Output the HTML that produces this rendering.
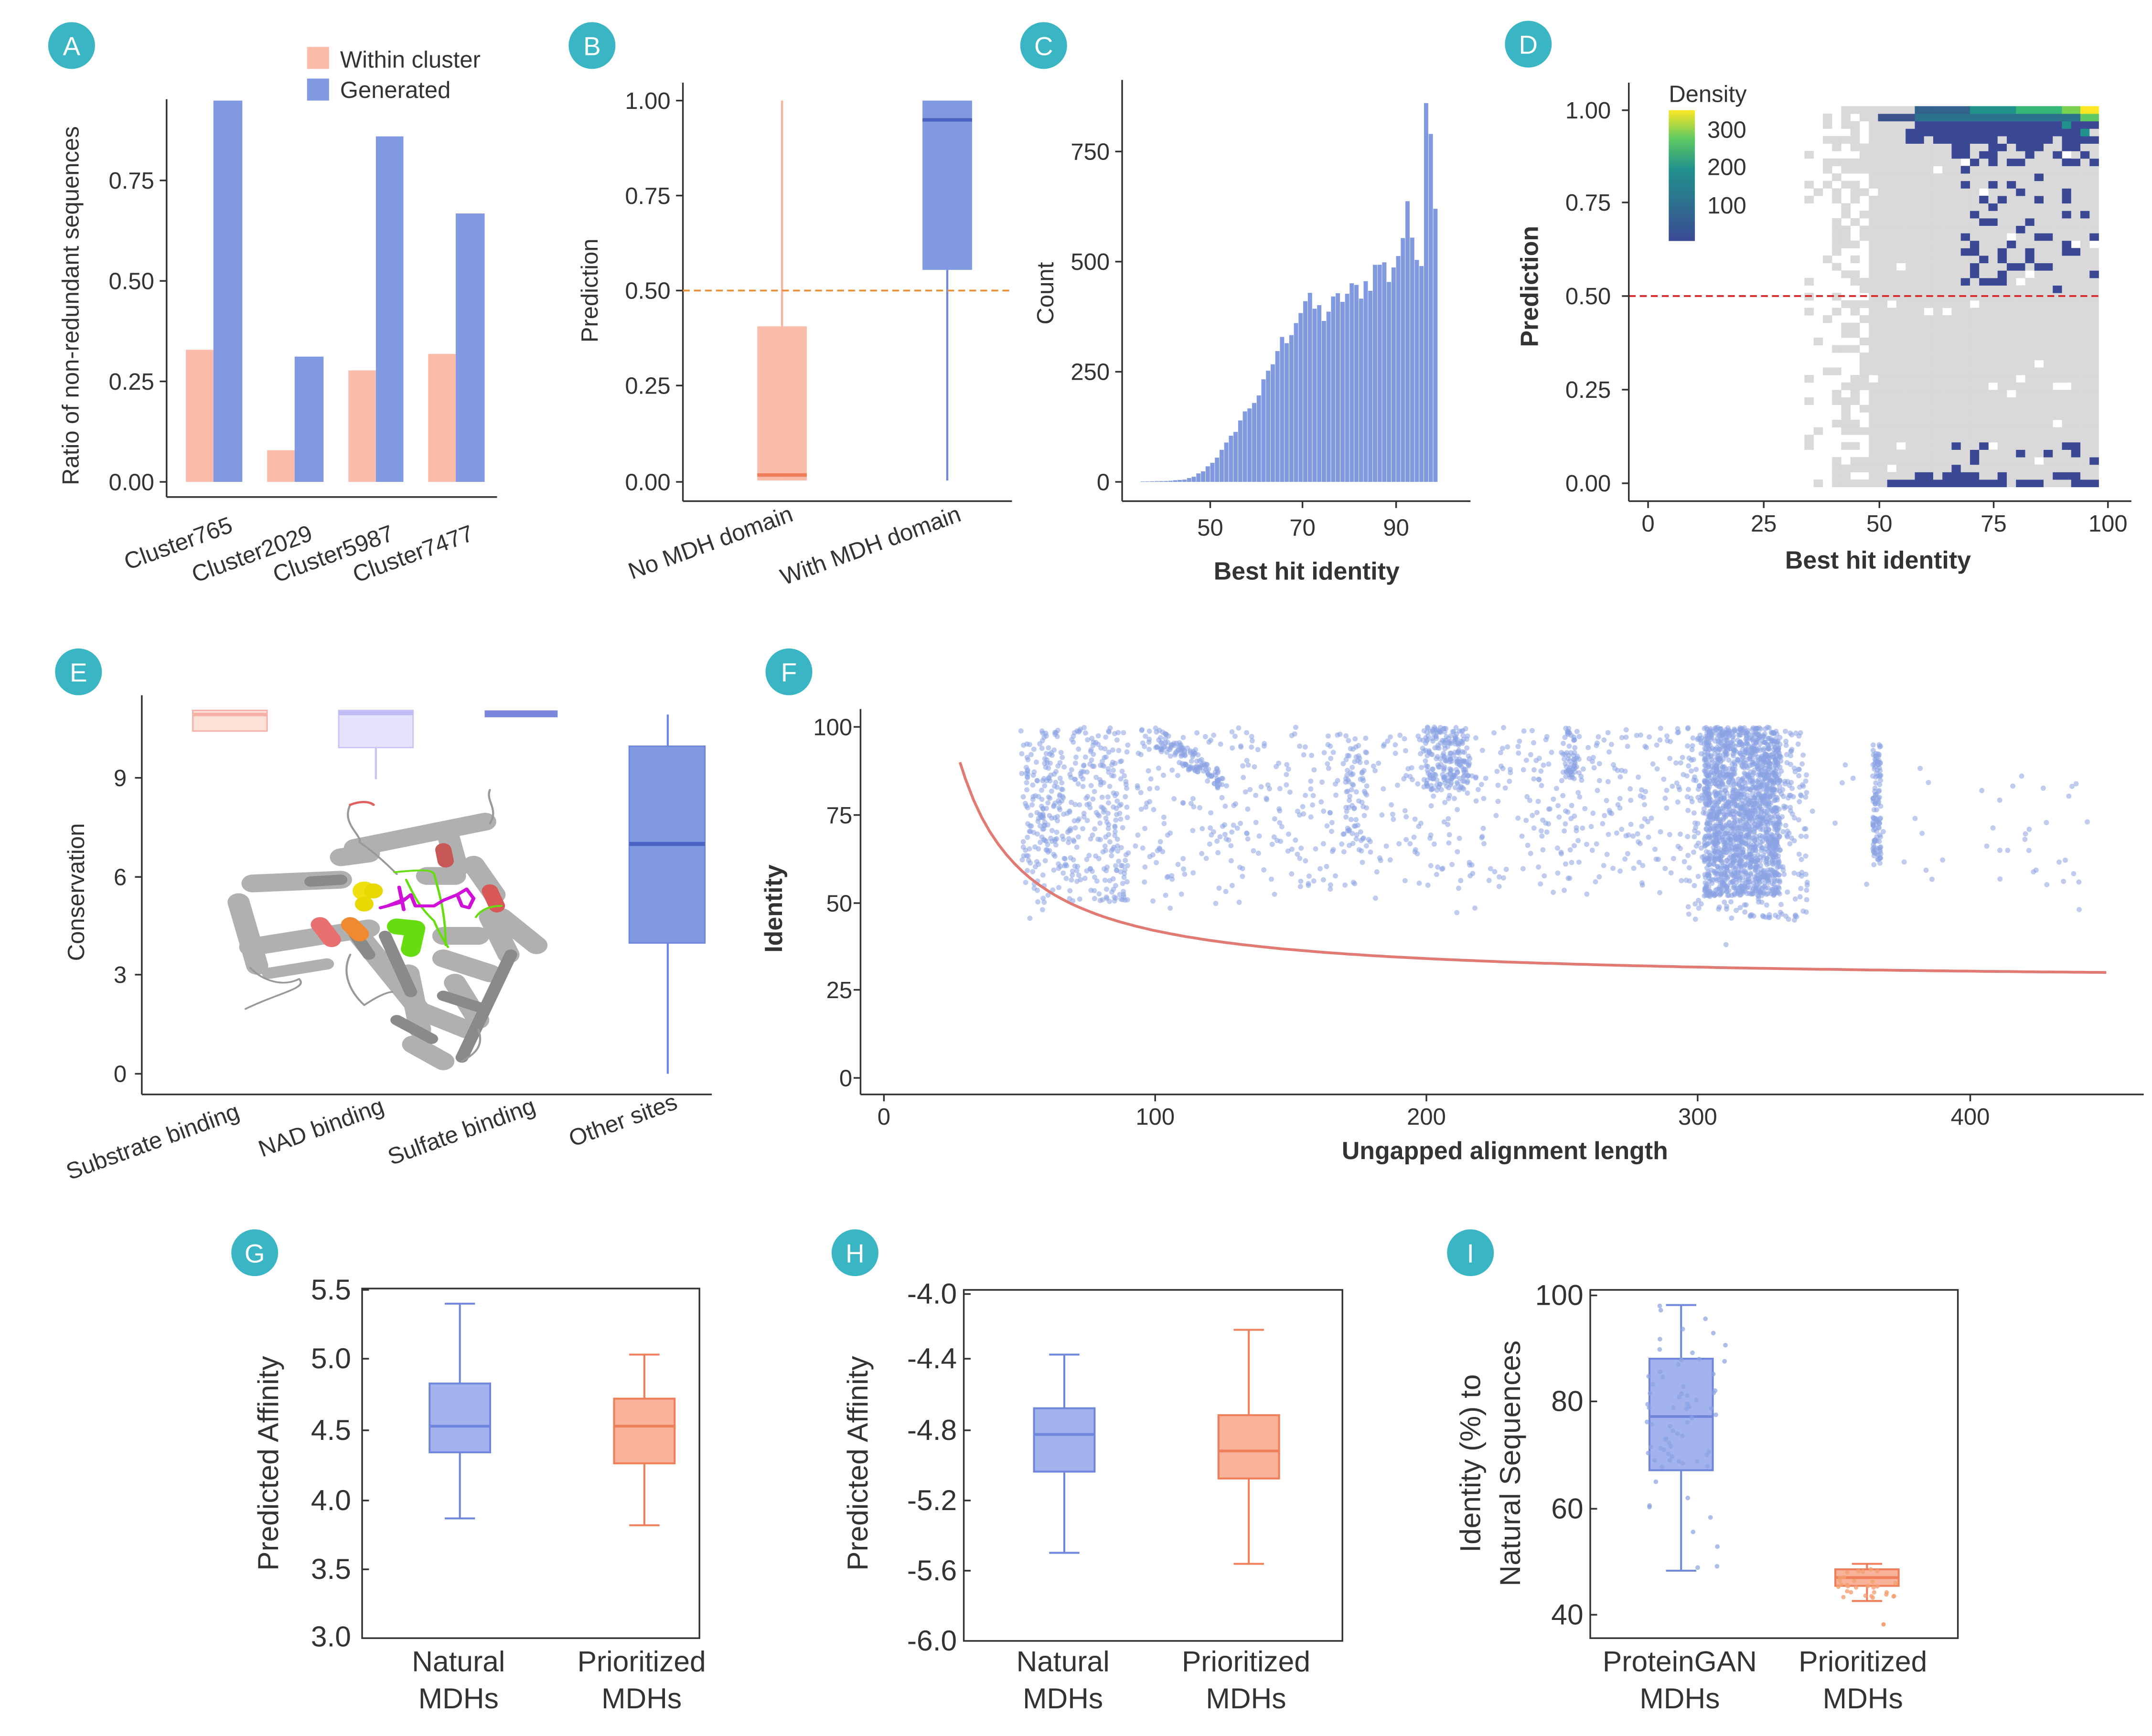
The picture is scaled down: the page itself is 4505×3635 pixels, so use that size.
<!DOCTYPE html>
<html><head><meta charset="utf-8"><style>
html,body{margin:0;padding:0;background:#fff;}
svg{display:block;}
text{font-family:"Liberation Sans",sans-serif;fill:#333;}
.t{font-size:17px;}
.b{font-size:18px;font-weight:bold;}
.g{font-size:21px;}
.L{font-size:19px;fill:#fff;text-anchor:middle;}
</style></head><body>
<svg id="s" width="4505" height="3635" viewBox="0 0 1563 1261" xmlns="http://www.w3.org/2000/svg">
<rect width="1563" height="1261" fill="#fff"/>
<g>
<circle cx="52" cy="33" r="17" fill="#3ab5c4"/><text x="52" y="40" class="L">A</text>
<circle cx="430" cy="33" r="17" fill="#3ab5c4"/><text x="430" y="40" class="L">B</text>
<circle cx="758" cy="33" r="17" fill="#3ab5c4"/><text x="758" y="40" class="L">C</text>
<circle cx="1110" cy="32" r="17" fill="#3ab5c4"/><text x="1110" y="39" class="L">D</text>
<circle cx="57" cy="488" r="17" fill="#3ab5c4"/><text x="57" y="495" class="L">E</text>
<circle cx="573" cy="488" r="17" fill="#3ab5c4"/><text x="573" y="495" class="L">F</text>
<circle cx="185" cy="910" r="17" fill="#3ab5c4"/><text x="185" y="917" class="L">G</text>
<circle cx="621" cy="910" r="17" fill="#3ab5c4"/><text x="621" y="917" class="L">H</text>
<circle cx="1068" cy="910" r="17" fill="#3ab5c4"/><text x="1068" y="917" class="L">I</text>
</g>

<!-- Panel A -->
<g stroke="#333" stroke-width="1.2">
<line x1="121" y1="72" x2="121" y2="361"/><line x1="121" y1="361" x2="361" y2="361"/>
<line x1="116" y1="350" x2="121" y2="350"/><line x1="116" y1="277" x2="121" y2="277"/><line x1="116" y1="204" x2="121" y2="204"/><line x1="116" y1="131" x2="121" y2="131"/>
</g>
<g class="t" text-anchor="end">
<text x="112" y="356" class="t">0.00</text><text x="112" y="283" class="t">0.25</text><text x="112" y="210" class="t">0.50</text><text x="112" y="137" class="t">0.75</text>
</g>
<g>
<rect x="135" y="254" width="20" height="96" fill="#fbbcaa"/><rect x="155" y="73" width="21" height="277" fill="#8199e0"/>
<rect x="194" y="327" width="20" height="23" fill="#fbbcaa"/><rect x="214" y="259" width="21" height="91" fill="#8199e0"/>
<rect x="253" y="269" width="20" height="81" fill="#fbbcaa"/><rect x="273" y="99" width="20" height="251" fill="#8199e0"/>
<rect x="311" y="257" width="20" height="93" fill="#fbbcaa"/><rect x="331" y="155" width="21" height="195" fill="#8199e0"/>
</g>
<rect x="223" y="34" width="16" height="16" fill="#fbbcaa"/><text x="247" y="49" class="t">Within cluster</text>
<rect x="223" y="57" width="16" height="16" fill="#8199e0"/><text x="247" y="71" class="t">Generated</text>
<text class="t" transform="translate(57,222) rotate(-90)" text-anchor="middle">Ratio of non-redundant sequences</text>
<g class="t" text-anchor="end">
<text class="t" transform="translate(170,386) rotate(-20)">Cluster765</text>
<text class="t" transform="translate(228,392) rotate(-20)">Cluster2029</text>
<text class="t" transform="translate(287,392) rotate(-20)">Cluster5987</text>
<text class="t" transform="translate(345,392) rotate(-20)">Cluster7477</text>
</g>

<!-- Panel B -->
<g stroke="#333" stroke-width="1.2">
<line x1="496" y1="60" x2="496" y2="364"/><line x1="496" y1="364" x2="735" y2="364"/>
<line x1="491" y1="73" x2="496" y2="73"/><line x1="491" y1="142" x2="496" y2="142"/><line x1="491" y1="211" x2="496" y2="211"/><line x1="491" y1="280" x2="496" y2="280"/><line x1="491" y1="350" x2="496" y2="350"/>
</g>
<text x="487" y="79" class="t" text-anchor="end">1.00</text><text x="487" y="148" class="t" text-anchor="end">0.75</text><text x="487" y="217" class="t" text-anchor="end">0.50</text><text x="487" y="286" class="t" text-anchor="end">0.25</text><text x="487" y="356" class="t" text-anchor="end">0.00</text>
<text class="t" transform="translate(434,211) rotate(-90)" text-anchor="middle">Prediction</text>
<line x1="568" y1="73" x2="568" y2="349" stroke="#fbb0a0" stroke-width="1.5"/>
<rect x="550" y="237" width="36" height="112" fill="#fbbcaa"/>
<line x1="550" y1="345" x2="586" y2="345" stroke="#ef7e5b" stroke-width="2.5"/>
<line x1="688" y1="196" x2="688" y2="349" stroke="#6f86dc" stroke-width="1.5"/>
<rect x="670" y="73" width="36" height="123" fill="#8199e0"/>
<line x1="670" y1="87" x2="706" y2="87" stroke="#4a62c0" stroke-width="2.5"/>
<line x1="496" y1="211" x2="735" y2="211" stroke="#e8903a" stroke-width="1.3" stroke-dasharray="5,3"/>
<text class="t" transform="translate(577,378) rotate(-20)" text-anchor="end">No MDH domain</text>
<text class="t" transform="translate(699,378) rotate(-20)" text-anchor="end">With MDH domain</text>

<!-- Panel C -->
<g stroke="#333" stroke-width="1.2">
<line x1="815" y1="58" x2="815" y2="364"/><line x1="815" y1="364" x2="1068" y2="364"/>
<line x1="810" y1="110" x2="815" y2="110"/><line x1="810" y1="190" x2="815" y2="190"/><line x1="810" y1="270" x2="815" y2="270"/><line x1="810" y1="350" x2="815" y2="350"/>
<line x1="879" y1="364" x2="879" y2="369"/><line x1="946" y1="364" x2="946" y2="369"/><line x1="1014" y1="364" x2="1014" y2="369"/>
</g>
<text x="806" y="116" class="t" text-anchor="end">750</text><text x="806" y="196" class="t" text-anchor="end">500</text><text x="806" y="276" class="t" text-anchor="end">250</text><text x="806" y="356" class="t" text-anchor="end">0</text>
<text x="879" y="389" class="t" text-anchor="middle">50</text><text x="946" y="389" class="t" text-anchor="middle">70</text><text x="1014" y="389" class="t" text-anchor="middle">90</text>
<text class="t" transform="translate(765,213) rotate(-90)" text-anchor="middle">Count</text>
<text x="949" y="421" class="b" text-anchor="middle">Best hit identity</text>
<g id="hist"></g>

<!-- Panel D -->
<g id="heat"></g>
<line x1="1183" y1="215" x2="1525" y2="215" stroke="#d62728" stroke-width="1.3" stroke-dasharray="5,3"/>
<g stroke="#333" stroke-width="1.2">
<line x1="1183" y1="60" x2="1183" y2="364"/><line x1="1183" y1="364" x2="1548" y2="364"/>
<line x1="1178" y1="80" x2="1183" y2="80"/><line x1="1178" y1="147" x2="1183" y2="147"/><line x1="1178" y1="215" x2="1183" y2="215"/><line x1="1178" y1="283" x2="1183" y2="283"/><line x1="1178" y1="351" x2="1183" y2="351"/>
<line x1="1197" y1="364" x2="1197" y2="369"/><line x1="1281" y1="364" x2="1281" y2="369"/><line x1="1365" y1="364" x2="1365" y2="369"/><line x1="1448" y1="364" x2="1448" y2="369"/><line x1="1531" y1="364" x2="1531" y2="369"/>
</g>
<text x="1170" y="86" class="t" text-anchor="end">1.00</text><text x="1170" y="153" class="t" text-anchor="end">0.75</text><text x="1170" y="221" class="t" text-anchor="end">0.50</text><text x="1170" y="289" class="t" text-anchor="end">0.25</text><text x="1170" y="357" class="t" text-anchor="end">0.00</text>
<text x="1197" y="386" class="t" text-anchor="middle">0</text><text x="1281" y="386" class="t" text-anchor="middle">25</text><text x="1365" y="386" class="t" text-anchor="middle">50</text><text x="1448" y="386" class="t" text-anchor="middle">75</text><text x="1531" y="386" class="t" text-anchor="middle">100</text>
<text class="b" transform="translate(1117,208) rotate(-90)" text-anchor="middle">Prediction</text>
<text x="1364" y="413" class="b" text-anchor="middle">Best hit identity</text>
<defs><linearGradient id="vir" x1="0" y1="1" x2="0" y2="0">
<stop offset="0" stop-color="#3b4994"/><stop offset="0.3" stop-color="#2c728e"/><stop offset="0.55" stop-color="#21918c"/><stop offset="0.78" stop-color="#5ec962"/><stop offset="1" stop-color="#fde725"/></linearGradient></defs>
<rect x="1212" y="80" width="19" height="95" fill="url(#vir)"/>
<text x="1212" y="74" class="t">Density</text>
<text x="1240" y="100" class="t">300</text><text x="1240" y="127" class="t">200</text><text x="1240" y="155" class="t">100</text>

<!-- Panel E -->
<g stroke="#333" stroke-width="1.2">
<line x1="103" y1="505" x2="103" y2="795"/><line x1="103" y1="795" x2="517" y2="795"/>
<line x1="98" y1="565" x2="103" y2="565"/><line x1="98" y1="637" x2="103" y2="637"/><line x1="98" y1="708" x2="103" y2="708"/><line x1="98" y1="780" x2="103" y2="780"/>
</g>
<text x="92" y="571" class="t" text-anchor="end">9</text><text x="92" y="643" class="t" text-anchor="end">6</text><text x="92" y="714" class="t" text-anchor="end">3</text><text x="92" y="786" class="t" text-anchor="end">0</text>
<text class="t" transform="translate(61,648) rotate(-90)" text-anchor="middle">Conservation</text>
<rect x="140" y="516" width="54" height="15" fill="#fde0d8" stroke="#f6b0a8" stroke-width="1"/>
<line x1="140" y1="519" x2="194" y2="519" stroke="#f6b0a8" stroke-width="2.5"/>
<line x1="273" y1="543" x2="273" y2="566" stroke="#c9c4f5" stroke-width="1.5"/>
<rect x="246" y="516" width="54" height="27" fill="#e6e3fc" stroke="#c9c4f5" stroke-width="1"/>
<line x1="246" y1="518" x2="300" y2="518" stroke="#c0bbf2" stroke-width="3"/>
<rect x="352" y="516" width="53" height="5" fill="#7b87dd"/>
<line x1="485" y1="519" x2="485" y2="780" stroke="#6f86dc" stroke-width="1.5"/>
<rect x="457" y="542" width="55" height="143" fill="#8199e0" stroke="#6f86dc" stroke-width="1"/>
<line x1="457" y1="613" x2="512" y2="613" stroke="#4a62c0" stroke-width="3"/>
<text class="t" transform="translate(175,812) rotate(-20)" text-anchor="end">Substrate binding</text>
<text class="t" transform="translate(280,808) rotate(-20)" text-anchor="end">NAD binding</text>
<text class="t" transform="translate(390,808) rotate(-20)" text-anchor="end">Sulfate binding</text>
<text class="t" transform="translate(493,805) rotate(-20)" text-anchor="end">Other sites</text>
<!-- protein sketch -->
<g transform="translate(153,571) scale(0.169,0.136)" fill="none" stroke-linecap="round" stroke-linejoin="round">
<g stroke="#b0b0b0" stroke-width="95">
<path d="M620 330 L1180 190"/>
<path d="M180 520 L560 500"/>
<path d="M120 620 L200 960"/>
<path d="M170 860 L680 760"/>
<path d="M560 380 L680 360"/>
<path d="M640 800 L900 1200"/>
<path d="M1000 920 L1200 1000"/>
<path d="M1050 1050 L1150 1250"/>
<path d="M900 1200 L1100 1300"/>
<path d="M870 1380 L1000 1470"/>
<path d="M1250 700 L1400 850"/>
<path d="M1020 260 L1060 440"/>
<path d="M1130 420 L1220 580"/>
<path d="M1200 700 L1280 900"/>
<path d="M930 480 L1050 480"/>
<path d="M850 1000 L900 1300"/>
<path d="M1000 800 L1150 800"/>
<path d="M250 1000 L500 950" stroke-width="60"/>
</g>
<g stroke="#8a8a8a" stroke-width="55">
<path d="M750 800 L860 1100"/>
<path d="M1080 1450 L1290 900"/>
<path d="M430 510 L560 500"/>
<path d="M620 790 L680 900"/>
<path d="M1000 1120 L1150 1180"/>
<path d="M800 1250 L950 1350"/>
</g>
<g stroke="#999" stroke-width="9">
<path d="M600 100 C560 200,650 260,640 300 C700 350,760 420,800 470"/>
<path d="M170 970 C230 1050,320 1070,380 1030 C420 1080,300 1100,150 1190"/>
<path d="M600 900 C560 1000,600 1100,660 1170 C720 1120,760 1100,780 1100"/>
<path d="M1200 20 C1180 80,1240 120,1200 200"/>
<path d="M1150 1300 C1180 1400,1120 1440,1080 1470"/>
</g>
<path d="M600 100 C640 80,680 80,700 100" stroke="#e06060" stroke-width="12"/>
<path d="M470 740 L520 820" stroke="#e87070" stroke-width="80"/>
<path d="M600 740 L640 790" stroke="#f08a30" stroke-width="80"/>
<path d="M1000 340 L1010 400" stroke="#c85858" stroke-width="70"/>
<path d="M1200 560 L1230 640" stroke="#d85858" stroke-width="70"/>
<path d="M800 750 L880 760 L860 870" stroke="#66dd11" stroke-width="85"/>
<path d="M790 460 C880 450,950 440,960 470 C990 600,1010 700,1010 850" stroke="#66dd11" stroke-width="10"/>
<path d="M840 500 C880 600,900 650,960 720 C980 780,1000 820,1020 860" stroke="#66dd11" stroke-width="10"/>
<path d="M1140 700 C1160 660,1200 640,1250 640" stroke="#66dd11" stroke-width="10"/>
<circle cx="660" cy="560" r="50" fill="#f0e010" stroke="none"/>
<circle cx="700" cy="560" r="40" fill="#e8d800" stroke="none"/>
<circle cx="660" cy="630" r="40" fill="#e8d800" stroke="none"/>
<g stroke="#d010d8" stroke-width="16">
<path d="M730 650 L820 620 L860 580 L880 640 L960 640 L1000 610 L1060 580 L1100 550 L1130 600 L1110 650 L1080 640 L1060 580"/>
<path d="M810 540 L830 660 M840 600 L760 640"/>
</g>
</g>

<!-- Panel F -->
<g id="scat"></g>
<g stroke="#333" stroke-width="1.2">
<line x1="625" y1="515" x2="625" y2="795"/><line x1="625" y1="795" x2="1557" y2="795"/>
<line x1="620" y1="528" x2="625" y2="528"/><line x1="620" y1="592" x2="625" y2="592"/><line x1="620" y1="656" x2="625" y2="656"/><line x1="620" y1="719" x2="625" y2="719"/><line x1="620" y1="783" x2="625" y2="783"/>
<line x1="642" y1="795" x2="642" y2="800"/><line x1="839" y1="795" x2="839" y2="800"/><line x1="1036" y1="795" x2="1036" y2="800"/><line x1="1233" y1="795" x2="1233" y2="800"/><line x1="1431" y1="795" x2="1431" y2="800"/>
</g>
<text x="619" y="534" class="t" text-anchor="end">100</text><text x="619" y="598" class="t" text-anchor="end">75</text><text x="619" y="662" class="t" text-anchor="end">50</text><text x="619" y="725" class="t" text-anchor="end">25</text><text x="619" y="789" class="t" text-anchor="end">0</text>
<text x="642" y="817" class="t" text-anchor="middle">0</text><text x="839" y="817" class="t" text-anchor="middle">100</text><text x="1036" y="817" class="t" text-anchor="middle">200</text><text x="1233" y="817" class="t" text-anchor="middle">300</text><text x="1431" y="817" class="t" text-anchor="middle">400</text>
<text class="b" transform="translate(568,660) rotate(-90)" text-anchor="middle">Identity</text>
<text x="1093" y="842" class="b" text-anchor="middle">Ungapped alignment length</text>

<!-- Panel G -->
<rect x="263" y="936" width="245" height="254" fill="none" stroke="#333" stroke-width="1.2"/>
<g stroke="#333" stroke-width="1.2">
<line x1="263" y1="937" x2="268" y2="937"/><line x1="263" y1="987" x2="268" y2="987"/><line x1="263" y1="1039" x2="268" y2="1039"/><line x1="263" y1="1090" x2="268" y2="1090"/><line x1="263" y1="1140" x2="268" y2="1140"/>
</g>
<text x="255" y="944" class="g" text-anchor="end">5.5</text><text x="255" y="994" class="g" text-anchor="end">5.0</text><text x="255" y="1046" class="g" text-anchor="end">4.5</text><text x="255" y="1097" class="g" text-anchor="end">4.0</text><text x="255" y="1147" class="g" text-anchor="end">3.5</text><text x="255" y="1196" class="g" text-anchor="end">3.0</text>
<text class="g" transform="translate(202,1063) rotate(-90)" text-anchor="middle">Predicted Affinity</text>
<g stroke="#6f86dc" stroke-width="1.4">
<line x1="334" y1="947" x2="334" y2="1005"/><line x1="334" y1="1055" x2="334" y2="1103"/>
<line x1="323" y1="947" x2="345" y2="947"/><line x1="323" y1="1103" x2="345" y2="1103"/>
<rect x="312" y="1005" width="44" height="50" fill="#a3b3ee"/>
<line x1="312" y1="1036" x2="356" y2="1036" stroke-width="2"/>
</g>
<g stroke="#ef7e5b" stroke-width="1.4">
<line x1="468" y1="984" x2="468" y2="1016"/><line x1="468" y1="1063" x2="468" y2="1108"/>
<line x1="457" y1="984" x2="479" y2="984"/><line x1="457" y1="1108" x2="479" y2="1108"/>
<rect x="446" y="1016" width="44" height="47" fill="#f9b39a"/>
<line x1="446" y1="1036" x2="490" y2="1036" stroke-width="2"/>
</g>
<text x="333" y="1214" class="g" text-anchor="middle">Natural</text><text x="333" y="1241" class="g" text-anchor="middle">MDHs</text>
<text x="466" y="1214" class="g" text-anchor="middle">Prioritized</text><text x="466" y="1241" class="g" text-anchor="middle">MDHs</text>

<!-- Panel H -->
<rect x="700" y="937" width="275" height="255" fill="none" stroke="#333" stroke-width="1.2"/>
<g stroke="#333" stroke-width="1.2">
<line x1="700" y1="940" x2="705" y2="940"/><line x1="700" y1="987" x2="705" y2="987"/><line x1="700" y1="1039" x2="705" y2="1039"/><line x1="700" y1="1090" x2="705" y2="1090"/><line x1="700" y1="1141" x2="705" y2="1141"/>
</g>
<text x="695" y="947" class="g" text-anchor="end">-4.0</text><text x="695" y="994" class="g" text-anchor="end">-4.4</text><text x="695" y="1046" class="g" text-anchor="end">-4.8</text><text x="695" y="1097" class="g" text-anchor="end">-5.2</text><text x="695" y="1148" class="g" text-anchor="end">-5.6</text><text x="695" y="1199" class="g" text-anchor="end">-6.0</text>
<text class="g" transform="translate(630,1063) rotate(-90)" text-anchor="middle">Predicted Affinity</text>
<g stroke="#6f86dc" stroke-width="1.4">
<line x1="773" y1="984" x2="773" y2="1023"/><line x1="773" y1="1069" x2="773" y2="1128"/>
<line x1="762" y1="984" x2="784" y2="984"/><line x1="762" y1="1128" x2="784" y2="1128"/>
<rect x="751" y="1023" width="44" height="46" fill="#a3b3ee"/>
<line x1="751" y1="1042" x2="795" y2="1042" stroke-width="2"/>
</g>
<g stroke="#ef7e5b" stroke-width="1.4">
<line x1="907" y1="966" x2="907" y2="1028"/><line x1="907" y1="1074" x2="907" y2="1136"/>
<line x1="896" y1="966" x2="918" y2="966"/><line x1="896" y1="1136" x2="918" y2="1136"/>
<rect x="885" y="1028" width="44" height="46" fill="#f9b39a"/>
<line x1="885" y1="1054" x2="929" y2="1054" stroke-width="2"/>
</g>
<text x="772" y="1214" class="g" text-anchor="middle">Natural</text><text x="772" y="1241" class="g" text-anchor="middle">MDHs</text>
<text x="905" y="1214" class="g" text-anchor="middle">Prioritized</text><text x="905" y="1241" class="g" text-anchor="middle">MDHs</text>

<!-- Panel I -->
<rect x="1155" y="937" width="267" height="253" fill="none" stroke="#333" stroke-width="1.2"/>
<g stroke="#333" stroke-width="1.2">
<line x1="1155" y1="941" x2="1160" y2="941"/><line x1="1155" y1="1018" x2="1160" y2="1018"/><line x1="1155" y1="1096" x2="1160" y2="1096"/><line x1="1155" y1="1173" x2="1160" y2="1173"/>
</g>
<text x="1150" y="948" class="g" text-anchor="end">100</text><text x="1150" y="1025" class="g" text-anchor="end">80</text><text x="1150" y="1103" class="g" text-anchor="end">60</text><text x="1150" y="1180" class="g" text-anchor="end">40</text>
<text class="g" transform="translate(1075,1063) rotate(-90)" text-anchor="middle">Identity (%)  to</text>
<text class="g" transform="translate(1104,1063) rotate(-90)" text-anchor="middle">Natural Sequences</text>
<g stroke="#6f86dc" stroke-width="1.4">
<line x1="1221" y1="948" x2="1221" y2="987"/><line x1="1221" y1="1068" x2="1221" y2="1141"/>
<line x1="1210" y1="948" x2="1232" y2="948"/><line x1="1210" y1="1141" x2="1232" y2="1141"/>
<rect x="1198" y="987" width="46" height="81" fill="#a3b3ee"/>
<line x1="1198" y1="1029" x2="1244" y2="1029" stroke-width="2"/>
</g>
<g stroke="#ef7e5b" stroke-width="1.4">
<line x1="1356" y1="1136" x2="1356" y2="1140"/><line x1="1356" y1="1152" x2="1356" y2="1163"/>
<line x1="1345" y1="1136" x2="1367" y2="1136"/><line x1="1345" y1="1163" x2="1367" y2="1163"/>
<rect x="1333" y="1140" width="46" height="12" fill="#f9b39a"/>
<line x1="1333" y1="1146" x2="1379" y2="1146" stroke-width="2"/>
</g>
<g id="idots"></g>
<text x="1220" y="1214" class="g" text-anchor="middle">ProteinGAN</text><text x="1220" y="1241" class="g" text-anchor="middle">MDHs</text>
<text x="1353" y="1214" class="g" text-anchor="middle">Prioritized</text><text x="1353" y="1241" class="g" text-anchor="middle">MDHs</text>
</svg>
<script>
(function(){
var NS="http://www.w3.org/2000/svg";
var seed=12345;function r(){seed=(seed*1103515245+12345)%2147483648;return seed/2147483648;}
function rn(){return (r()+r()+r()+r()-2)/1.15;}
function el(p,t,a){var e=document.createElementNS(NS,t);for(var k in a)e.setAttribute(k,a[k]);p.appendChild(e);return e;}
var H=document.getElementById('hist');
var tb=[[35,1],[40,2],[44,5],[46,12],[48,25],[50,45],[52,70],[54,100],[56,140],[58,170],[60,200],[62,240],[64,300],[66,330],[68,370],[70,410],[72,395],[74,380],[76,400],[78,420],[80,430],[82,440],[84,460],[86,500],[88,470],[90,520],[92,600],[93,560],[94,540],[95,490],[96,860],[97,790],[98,620]];
function interp(x){for(var i=0;i<tb.length-1;i++){if(x>=tb[i][0]&&x<=tb[i+1][0]){var f=(x-tb[i][0])/(tb[i+1][0]-tb[i][0]);return tb[i][1]+f*(tb[i+1][1]-tb[i][1]);}}return 0;}
for(var u=35;u<99;u+=1){var c=interp(u);if(u<95)c*=0.93+0.14*r();var x=879+(u-50)*3.375;el(H,'rect',{x:x,y:350-c*0.32,width:3.1,height:c*0.32,fill:'#8199e0'});}
var D=document.getElementById('heat');
var navy='#3b4994';
for(var k=0;k<=50;k++){var v=k*0.02;var yc=351-v*271.2;
 for(var u=34;u<=96;u+=2){var x=1197+u*3.34;var f=null;
  var p=u>=48?0.96:(u>=40?0.5:0.15);
  if(r()<p)f='#d9d9d9';
  if(k==50&&u>=58){var t=(u-58)/38;f=t<0.3?'#33638d':t<0.55?'#21918c':t<0.8?'#35b779':t<0.92?'#7ad151':'#fde725';}
  if(k==49&&u>=50){f=u>=94?'#5ec962':(u>=58?'#2c728e':'#3b528b');}
  if(k>=46&&k<=48&&u>=56&&r()<0.85)f=u>=88&&r()<0.3?'#21918c':navy;
  if(k>=43&&k<=45&&u>=66&&r()<0.6)f=navy;
  if(k>=26&&k<=42&&u>=68&&r()<0.13)f=navy;
  if(k==0&&((u>=52&&u<=76)||(u>=80&&u<=84)||u>=92))f=navy;
  if(k==1&&((u>=58&&u<=76)||(u>=88&&u<=92))&&r()<0.85)f=navy;
  if(k>=2&&k<=5&&u>=60&&r()<0.12)f=navy;
  if(f)el(D,'rect',{x:x,y:yc-2.75,width:6.8,height:5.6,fill:f});
 }}
var S=document.getElementById('scat');
function px(L){return 642+L*1.973;}function py(I){return 783-I*2.548;}
var d='M'+px(28)+' '+py(90);for(var L=30;L<=450;L+=3){d+=' L'+px(L).toFixed(1)+' '+py(27.5+62.5*Math.pow(28/L,1.15)).toFixed(1);}
function dot(L,I){if(I>100)I=100-r()*2;el(S,'circle',{cx:px(L).toFixed(1),cy:py(I).toFixed(1),r:1.9,fill:'#8aa3e3','fill-opacity':0.55});}
var i;
for(i=0;i<900;i++){var L=50+r()*290;var I=55+r()*45+rn()*3;if(r()<0.2)I=45+r()*55;dot(L,I);}
for(i=0;i<300;i++){dot(52+r()*38,50+r()*50);}
for(i=0;i<120;i++){var L=100+r()*25;dot(L,100-(L-100)*0.5-r()*6);}
for(i=0;i<200;i++){dot(198+r()*18,82+r()*18);}
for(i=0;i<60;i++){dot(250+r()*6,85+r()*15);}
for(i=0;i<60;i++){dot(170+r()*8,65+r()*30);}
for(i=0;i<1500;i++){var L=302+r()*28;dot(L,52+r()*48);}
for(i=0;i<300;i++){dot(295+r()*45,45+r()*55);}
for(i=0;i<120;i++){dot(364+r()*3,60+r()*35);}
for(i=0;i<40;i++){dot(340+r()*100,55+r()*35);}
dot(443,73);dot(440,48);dot(310,38);dot(420,68);
el(S,'path',{d:d,fill:'none',stroke:'#e07a72','stroke-width':2});
var G=document.getElementById('idots');
for(i=0;i<70;i++){var val=48+r()*50;if(r()<0.5)val=67+r()*21;el(G,'circle',{cx:1196+r()*58,cy:1173-(val-40)*3.87,r:1.7,fill:'#8aa3e3','fill-opacity':0.7});}
for(i=0;i<30;i++){var val=43+r()*6;el(G,'circle',{cx:1335+r()*42,cy:1173-(val-40)*3.87,r:1.6,fill:'#f4a070','fill-opacity':0.8});}
el(G,'circle',{cx:1368,cy:1180,r:1.6,fill:'#f4a070'});
})();
</script>
</body></html>
